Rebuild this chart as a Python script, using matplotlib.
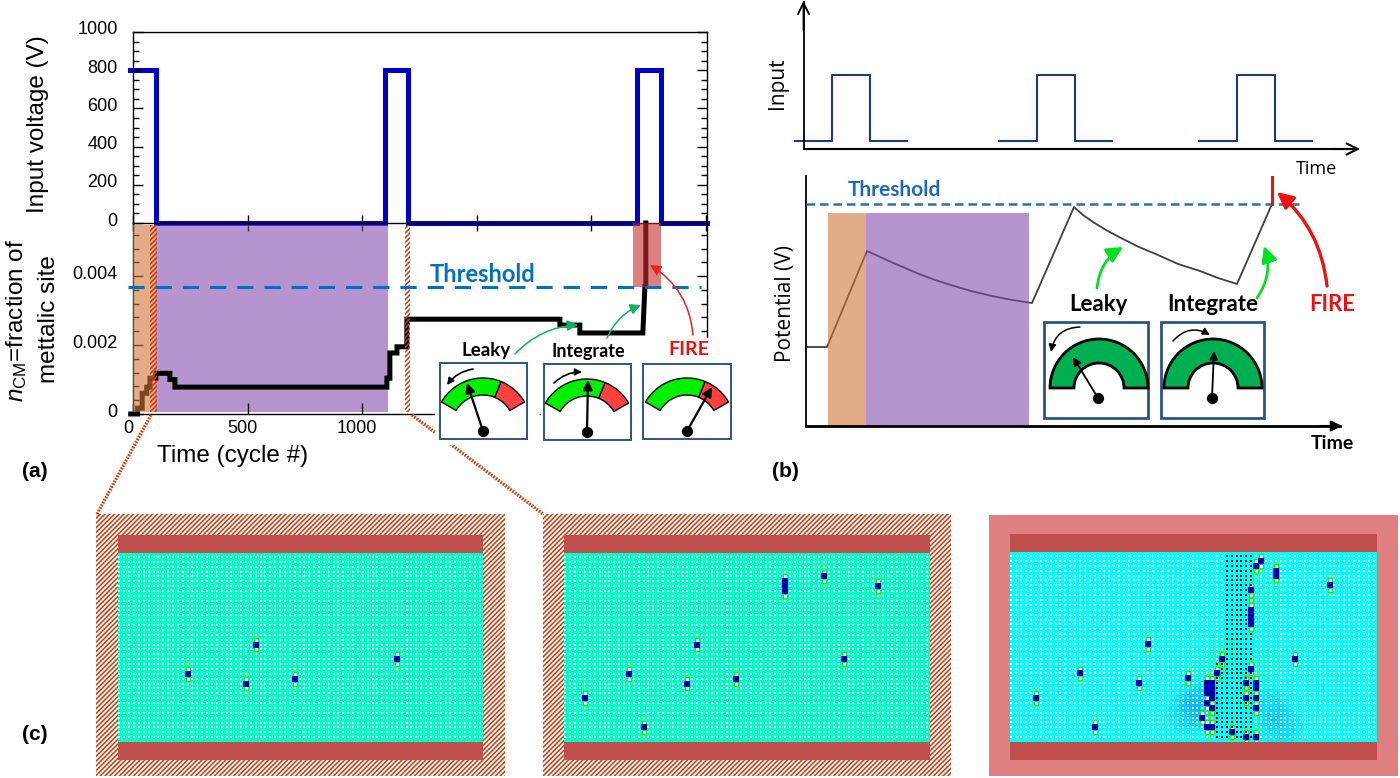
import numpy as np
import matplotlib
matplotlib.use("Agg")
import matplotlib.pyplot as plt
from matplotlib.patches import Rectangle, Wedge
from matplotlib.ticker import MultipleLocator
from matplotlib.transforms import ScaledTranslation

W, H = 1400, 778
plt.rcParams["font.family"] = ["Liberation Sans", "DejaVu Sans"]
plt.rcParams["mathtext.fontset"] = "custom"
plt.rcParams["mathtext.rm"] = "Liberation Sans"
plt.rcParams["mathtext.it"] = "Liberation Sans:italic"
plt.rcParams["hatch.linewidth"] = 1.1

BLUE = "#0000cc"
THRESH = "#0070c0"
ORANGE = "#d07637"
PURPLE = "#844db1"
RED_BOX = "#cb2b2b"
HATCH = "#c8390c"
BAR = "#c0504d"
CALIBRI = ["Lato", "DejaVu Sans"]
SEGOE = ["Open Sans", "DejaVu Sans"]

# panel (a)
volt_t = [-15, 100, 100, 1100, 1100, 1200, 1200, 2200, 2200, 2305, 2305, 2505]
volt_v = [800, 800, 0, 0, 800, 800, 0, 0, 800, 800, 0, 0]
ncm_t = [-10, 20, 20, 40, 40, 60, 60, 74, 74, 100, 100, 161, 161, 183, 183, 1108, 1108, 1121, 1121,
         1152, 1152, 1195, 1195, 1863, 1863, 1950, 1950, 2225, 2234, 2238, 2238]
ncm_v = [0, 0, 0.00017, 0.00017, 0.0006, 0.0006, 0.00078, 0.00078, 0.00104, 0.00104, 0.00118, 0.00118,
         0.001, 0.001, 0.00078, 0.00078, 0.00104, 0.00104, 0.00177, 0.00177, 0.00195, 0.00195, 0.00275,
         0.00275, 0.00258, 0.00258, 0.00235, 0.00235, 0.0037, 0.0037, 0.00554]
threshold_a = 0.00368
ncm_top = 0.00554

# panel (b), arbitrary units, measured from the axes origin
input_segments = [([-9, 28, 28, 66, 66, 103], [8, 8, 74, 74, 8, 8]),
                  ([195, 233, 233, 271, 271, 308], [8, 8, 74, 74, 8, 8]),
                  ([395, 433, 433, 471, 471, 508], [8, 8, 74, 74, 8, 8])]
pot_t = [0, 21, 61, 72, 85, 99, 113, 129, 145, 165, 186, 206, 226, 268,
         277, 287, 300, 315, 333, 352, 372, 394, 412, 431, 466]
pot_v = [79, 79, 175, 170, 164, 158, 152, 146, 141, 135, 130, 126, 123, 219,
         211, 204, 196, 188, 179, 171, 162, 155, 148, 142, 222]
threshold_b = 222

# panel (c), lattice sites of the defects as column / row
defects_1 = [(14, 24), (28, 18), (26, 26), (36, 25), (57, 21)]
defects_2 = [(4, 29), (13, 24), (16, 35), (25, 26), (27, 18), (35, 25), (45, 5), (45, 6), (45, 7),
             (53, 4), (57, 21), (64, 6)]
defects_3 = [(5, 29), (14, 24), (17, 35), (26, 26), (28, 18), (36, 25), (58, 21), (65, 6), (54, 3), (54, 4),
             (51, 1), (50, 2), (49, 7), (49, 11), (49, 12), (49, 13), (49, 14), (43, 21), (42, 24), (49, 23),
             (48, 26), (50, 26), (50, 27), (40, 26), (40, 27), (40, 28), (41, 26), (41, 27), (41, 28), (41, 29),
             (40, 30), (41, 31), (48, 29), (50, 29), (50, 31), (39, 33), (40, 35), (41, 35), (45, 36), (48, 37),
             (50, 37)]
green_3 = [(49, 8), (49, 9), (49, 10), (49, 15), (43, 20), (42, 23), (49, 22), (40, 25), (48, 27), (48, 28),
           (50, 28), (50, 30), (41, 32), (50, 36), (45, 37), (50, 3), (54, 2), (54, 5)]
glow_blue_3 = [(38, 29), (39, 31), (53, 31), (36, 32), (55, 35)]
glow_green_3 = [(52, 9), (43, 19), (52, 22), (41, 23)]
filament_top_cols = [44, 45, 46, 47, 48, 49]
filament_low_cols = [42, 43, 44, 45, 46, 47, 48, 49]


def px_axes(x0, y0, x1, y1, **kw):
    return fig.add_axes([x0 / W, 1 - y1 / H, (x1 - x0) / W, (y1 - y0) / H], **kw)


def shift_labels(labels, dx, dy):
    for lab in labels:
        lab.set_transform(lab.get_transform() + ScaledTranslation(dx / 100, dy / 100, fig.dpi_scale_trans))


fig = plt.figure(figsize=(W / 100, H / 100), dpi=100)

# ---- panel (a) ----
ax_v = px_axes(133, 32, 707, 223)
ax_n = px_axes(133, 223, 707, 414)
ax_n.patch.set_visible(False)
for ax in (ax_v, ax_n):
    ax.set_xlim(0, 2505)
    ax.xaxis.set_major_locator(MultipleLocator(500))
    ax.tick_params(axis="y", which="major", direction="in", length=7, width=1, right=True, labelsize=13, pad=11)
    ax.tick_params(axis="y", which="minor", direction="in", length=4, width=1, right=True)
    for s in ax.spines.values():
        s.set_linewidth(1)
ax_v.set_ylim(0, 1000)
ax_v.yaxis.set_major_locator(MultipleLocator(200))
ax_v.yaxis.set_minor_locator(MultipleLocator(50))
ax_v.tick_params(axis="x", direction="inout", length=12, width=1, labelbottom=False)
ax_v.plot(volt_t, volt_v, color=BLUE, lw=3.6, clip_on=False, solid_joinstyle="miter", zorder=1.5)

ax_n.set_ylim(0, ncm_top)
ax_n.yaxis.set_minor_locator(MultipleLocator(0.0004))
ax_n.set_yticks([0, 0.002, 0.004], ["0", "0.002", "0.004"])
ax_n.spines["top"].set_visible(False)
ax_n.tick_params(axis="x", direction="in", length=8, width=1, labelsize=13, pad=4)
ax_n.set_xticks([0, 500, 1000, 1500, 2000], ["0", "500", "1000", "", ""])
ax_n.fill_between([96, 1112], 0.00006, 0.00548, color=PURPLE, alpha=0.6, lw=0, zorder=1)
ax_n.plot(ncm_t, ncm_v, color="black", lw=3.6, clip_on=False, solid_joinstyle="miter", zorder=2)
ax_n.fill_between([0, 96], 0.00006, 0.00548, color=ORANGE, alpha=0.6, lw=0, zorder=3)
ax_n.fill_between([2182, 2305], threshold_a, ncm_top, color=RED_BOX, alpha=0.6, lw=0, zorder=3)
for x0, x1 in [(74, 104), (1187, 1208)]:
    ax_n.add_patch(Rectangle((x0, 0.00006), x1 - x0, 0.00542, facecolor="none", edgecolor=HATCH,
                             hatch="///////", lw=0, zorder=4))
ax_n.plot([-22, 2480], [threshold_a, threshold_a], color=THRESH, lw=2.2, ls=(0, (5.3, 3.6)), clip_on=False, zorder=6)
shift_labels(ax_v.get_yticklabels(), 0, 4)
shift_labels(ax_n.get_yticklabels(), 0, 4)
shift_labels(ax_n.get_xticklabels(), -5, 0)

# ---- panel (b) ----
ax_in = px_axes(803.5, 2, 1358, 149)
ax_in.set_xlim(0, 554.5)
ax_in.set_ylim(0, 147)
ax_in.set_xticks([])
ax_in.set_yticks([])
ax_in.patch.set_visible(False)
for side in ("top", "right"):
    ax_in.spines[side].set_visible(False)
ax_in.spines["left"].set_linewidth(1.3)
ax_in.spines["bottom"].set_linewidth(1.5)
for xs, ys in input_segments:
    ax_in.plot(xs, ys, color="#1f3a7a", lw=1.5, clip_on=False)

ax_pot = px_axes(806, 176, 1340, 426)
ax_pot.set_xlim(0, 534)
ax_pot.set_ylim(0, 250)
ax_pot.set_xticks([])
ax_pot.set_yticks([])
ax_pot.patch.set_visible(False)
for side in ("top", "right"):
    ax_pot.spines[side].set_visible(False)
ax_pot.spines["left"].set_linewidth(1.3)
ax_pot.spines["bottom"].set_linewidth(2)
ax_pot.plot(pot_t, pot_v, color="#404040", lw=1.3, zorder=1)
ax_pot.fill_between([22, 60], 0, 213, color=ORANGE, alpha=0.6, lw=0, zorder=2)
ax_pot.fill_between([60, 223], 0, 213, color=PURPLE, alpha=0.6, lw=0, zorder=2)
ax_pot.plot([0, 493], [threshold_b, threshold_b], color="#2e6db4", lw=1.8, ls=(0, (3.4, 2)), zorder=3)
ax_pot.plot([466, 466], [threshold_b, 250], color="#f01010", lw=2.2, zorder=4)

# ---- panel (c) ----
frames = [(96, 514, 505, 776), (543, 514, 951, 776), (989, 515, 1398, 776)]
lattices = [(118, 553, 483, 742), (564, 553, 930, 742), (1010, 552, 1377, 742)]
lat_cols, lat_rows = np.meshgrid(np.arange(75), np.arange(38))


def draw_lattice(box, bg, defects, greens=(), glow_b=(), glow_g=(), filament=False):
    ax = px_axes(*box)
    ax.set_xlim(-0.3, 74.7)
    ax.set_ylim(38, -0.8)
    ax.axis("off")
    ax.add_patch(Rectangle((-0.3, -0.8), 75, 38.8, facecolor=bg, lw=0, zorder=0))
    for (cx, cy) in glow_b:
        ax.scatter(cx, cy, s=[900], color="#0090ff", alpha=0.13, lw=0, zorder=1)
        ax.scatter(cx, cy, s=[350], color="#0090ff", alpha=0.15, lw=0, zorder=1)
    for (cx, cy) in glow_g:
        ax.scatter(cx, cy, s=[500], color="#30ff60", alpha=0.16, lw=0, zorder=1)
    dx = np.array([d[0] for d in defects])
    dy = np.array([d[1] for d in defects])
    ax.scatter(dx, dy, s=45, color="#00e0ff", alpha=0.6, lw=0, zorder=1)
    ax.scatter(dx, dy - 2, s=9, marker="s", color="#40ff60", alpha=0.6, lw=0, zorder=1)
    ax.scatter(dx, dy + 2, s=9, marker="s", color="#40ff60", alpha=0.6, lw=0, zorder=1)
    ax.scatter(lat_cols.ravel(), lat_rows.ravel(), s=2.3, marker="s", color="white", lw=0, zorder=2)
    ax.scatter(dx, dy - 1, s=7, marker="s", facecolor="white", edgecolor="#20e040", lw=0.9, zorder=3)
    ax.scatter(dx, dy + 1, s=7, marker="s", facecolor="white", edgecolor="#20e040", lw=0.9, zorder=3)
    if filament:
        for r in range(38):
            cols = filament_top_cols if r < 22 else filament_low_cols
            ax.scatter(cols, [r] * len(cols), s=4.5, marker="s", color="black", lw=0, zorder=3)
    if greens:
        ax.scatter([g[0] for g in greens], [g[1] for g in greens], s=9, marker="s", facecolor="white",
                   edgecolor="#20f000", lw=1.0, zorder=4)
    ax.scatter(dx, dy, s=14, marker="s", color="#0000d0", lw=0, zorder=5)
    ax.scatter(dx, dy, s=4, marker="s", color="black", lw=0, zorder=6)
    return ax


draw_lattice(lattices[0], "#00ffc4", defects_1)
draw_lattice(lattices[1], "#00ffc4", defects_2)
draw_lattice(lattices[2], "#00ffff", defects_3, green_3, glow_blue_3, glow_green_3, filament=True)

# ---- overlay in picture pixels ----
ov = fig.add_axes([0, 0, 1, 1], zorder=10)
ov.set_xlim(0, W)
ov.set_ylim(H, 0)
ov.axis("off")

# zoom lines and frames of (c), under the white box of the gauges
ov.plot([151, 97], [415, 514], color=HATCH, lw=2.4, ls=(0, (0.5, 0.4)))
ov.plot([412, 543], [415, 514], color=HATCH, lw=2.4, ls=(0, (0.5, 0.4)))
ov.add_patch(Rectangle((435, 338), 105, 107, facecolor="white", lw=0, zorder=2))
ov.add_patch(Rectangle((541, 338), 196, 107, facecolor="white", lw=0, zorder=2))


def frame_c(i, hatched):
    x0, y0, x1, y1 = frames[i]
    lx0, ly0, lx1, ly1 = lattices[i]
    rw, rh = x1 - x0, y1 - y0
    ring = [Rectangle((x0, y0), rw, ly0 - 18 - y0), Rectangle((x0, ly1 + 18), rw, y1 - ly1 - 18),
            Rectangle((x0, y0), lx0 - x0, rh), Rectangle((lx1, y0), x1 - lx1, rh)]
    for r in ring:
        if hatched:
            r.set(facecolor="white", edgecolor=HATCH, hatch="///////", lw=0)
        else:
            r.set(facecolor="#e07f7f", lw=0)
        ov.add_patch(r)
    ov.add_patch(Rectangle((lx0, ly0 - 18), lx1 - lx0, 18, facecolor=BAR, lw=0))
    ov.add_patch(Rectangle((lx0, ly1), lx1 - lx0, 18, facecolor=BAR, lw=0))


frame_c(0, True)
frame_c(1, True)
frame_c(2, False)


def curved(start, end, color, rad, lw=1.1, scale=14, z=8):
    ov.annotate("", xy=end, xytext=start, zorder=z,
                arrowprops=dict(arrowstyle="-|>", color=color, lw=lw, mutation_scale=scale,
                                shrinkA=0, shrinkB=0, connectionstyle=f"arc3,rad={rad}"))


def gauge_a(box, pivot, tip, move=None, rad=0.0):
    x0, y0, x1, y1 = box
    ov.add_patch(Rectangle((x0, y0), x1 - x0, y1 - y0, facecolor="white", edgecolor="#2f5485", lw=1.4, zorder=3))
    cx, cy = pivot[0], pivot[1] - 5
    ov.add_patch(Wedge((cx, cy), 48, -68, -30, width=17, facecolor="#ff4040", edgecolor="black", lw=1, zorder=4))
    ov.add_patch(Wedge((cx, cy), 48, -150, -68, width=17, facecolor="#00f000", edgecolor="black", lw=1, zorder=4))
    curved(pivot, tip, "black", 0, lw=1.6, scale=14, z=6)
    ov.scatter(*pivot, s=50, color="black", zorder=7)
    if move:
        curved(move[0], move[1], "black", rad, lw=1.2, scale=10, z=6)


def gauge_b(box, pivot, tip, move, rad):
    x0, y0, x1, y1 = box
    ov.add_patch(Rectangle((x0, y0), x1 - x0, y1 - y0, facecolor="white", edgecolor="#2f5485", lw=2, zorder=3))
    ov.add_patch(Wedge((pivot[0] + 1, 388), 49, -180, 0, width=24, facecolor="#00b050", edgecolor="black",
                       lw=2, zorder=4))
    curved(pivot, tip, "black", 0, lw=1.3, scale=12, z=6)
    ov.scatter(*pivot, s=50, color="black", zorder=7)
    curved(move[0], move[1], "black", rad, lw=1.1, scale=11, z=6)


gauge_a((440, 363, 527, 439), (483, 431), (467, 383), ((473, 369), (447, 385)), 0.2)
gauge_a((544, 364, 631, 440), (587, 432), (588, 380), ((554, 383), (582, 372)), -0.2)
gauge_a((643, 364, 731, 439), (687, 431), (712, 387))
gauge_b((1044, 322, 1148, 418), (1098, 398), (1073, 357), ((1080, 327), (1051, 352)), 0.4)
gauge_b((1161, 322, 1264, 418), (1212, 398), (1214, 351), ((1173, 341), (1210, 335)), -0.4)

curved((515, 354), (578, 325), "#10b060", -0.2, scale=16)
curved((607, 338), (641, 305), "#10b060", -0.2, scale=16)
curved((693, 335), (650, 265), "#f02020", 0.25, scale=16)
curved((1097, 288), (1123, 247), "#00e020", -0.25, lw=2, scale=24)
curved((1257, 298), (1264, 246), "#00e020", 0.25, lw=2, scale=24)
curved((1327, 286), (1277, 192), "#f01010", 0.2, lw=2.4, scale=24)

# axis arrows of (b)
ov.annotate("", xy=(803.5, 1), xytext=(803.5, 30), arrowprops=dict(arrowstyle="->", lw=1.3, color="black",
                                                                   mutation_scale=20, shrinkA=0, shrinkB=0))
ov.annotate("", xy=(1360, 149), xytext=(1330, 149), arrowprops=dict(arrowstyle="->", lw=1.5, color="black",
                                                                    mutation_scale=20, shrinkA=0, shrinkB=0))
ov.annotate("", xy=(1342, 426), xytext=(1320, 426), arrowprops=dict(arrowstyle="-|>", lw=1.5, color="black",
                                                                    mutation_scale=16, shrinkA=0, shrinkB=0))

# texts
ctr = dict(ha="center", va="center")
ov.text(233, 456, "Time (cycle #)", fontsize=17.5, **ctr)
ov.text(38, 124, "Input voltage (V)", fontsize=17.5, rotation=90, **ctr)
ov.text(17, 320, r"$\mathit{n}_{\mathrm{CM}}$=fraction of", fontsize=17.5, rotation=90, **ctr)
ov.text(49, 319, "mettalic site", fontsize=17.5, rotation=90, **ctr)
ov.text(482, 274, "Threshold", fontsize=17, color=THRESH, fontweight="bold", family=CALIBRI, **ctr)
ov.text(486, 350, "Leaky", fontsize=13.5, fontweight="bold", family=CALIBRI, **ctr)
ov.text(588, 351, "Integrate", fontsize=13, fontweight="bold", family=CALIBRI, **ctr)
ov.text(689, 349, "FIRE", fontsize=14, color="#f01010", fontweight="bold", family=CALIBRI, **ctr)
ov.text(778, 83, "Input", fontsize=15, rotation=90, family=SEGOE, **ctr)
ov.text(1317, 169, "Time", fontsize=13, family=SEGOE, **ctr)
ov.text(785, 303, "Potential (V)", fontsize=15, rotation=90, family=SEGOE, **ctr)
ov.text(894, 190, "Threshold", fontsize=15, color="#1f6ab8", fontweight="bold", family=CALIBRI, **ctr)
ov.text(1098, 304, "Leaky", fontsize=16, fontweight="bold", family=CALIBRI, **ctr)
ov.text(1213, 304, "Integrate", fontsize=16, fontweight="bold", family=CALIBRI, **ctr)
ov.text(1332, 304, "FIRE", fontsize=16, color="#f01010", fontweight="bold", family=CALIBRI, **ctr)
ov.text(1332, 443, "Time", fontsize=14, fontweight="bold", family=CALIBRI, **ctr)
ov.text(35, 471, "(a)", fontsize=15, fontweight="bold", **ctr)
ov.text(785, 471, "(b)", fontsize=15, fontweight="bold", **ctr)
ov.text(35, 734, "(c)", fontsize=15, fontweight="bold", **ctr)

fig.savefig("out.png", dpi=100)
